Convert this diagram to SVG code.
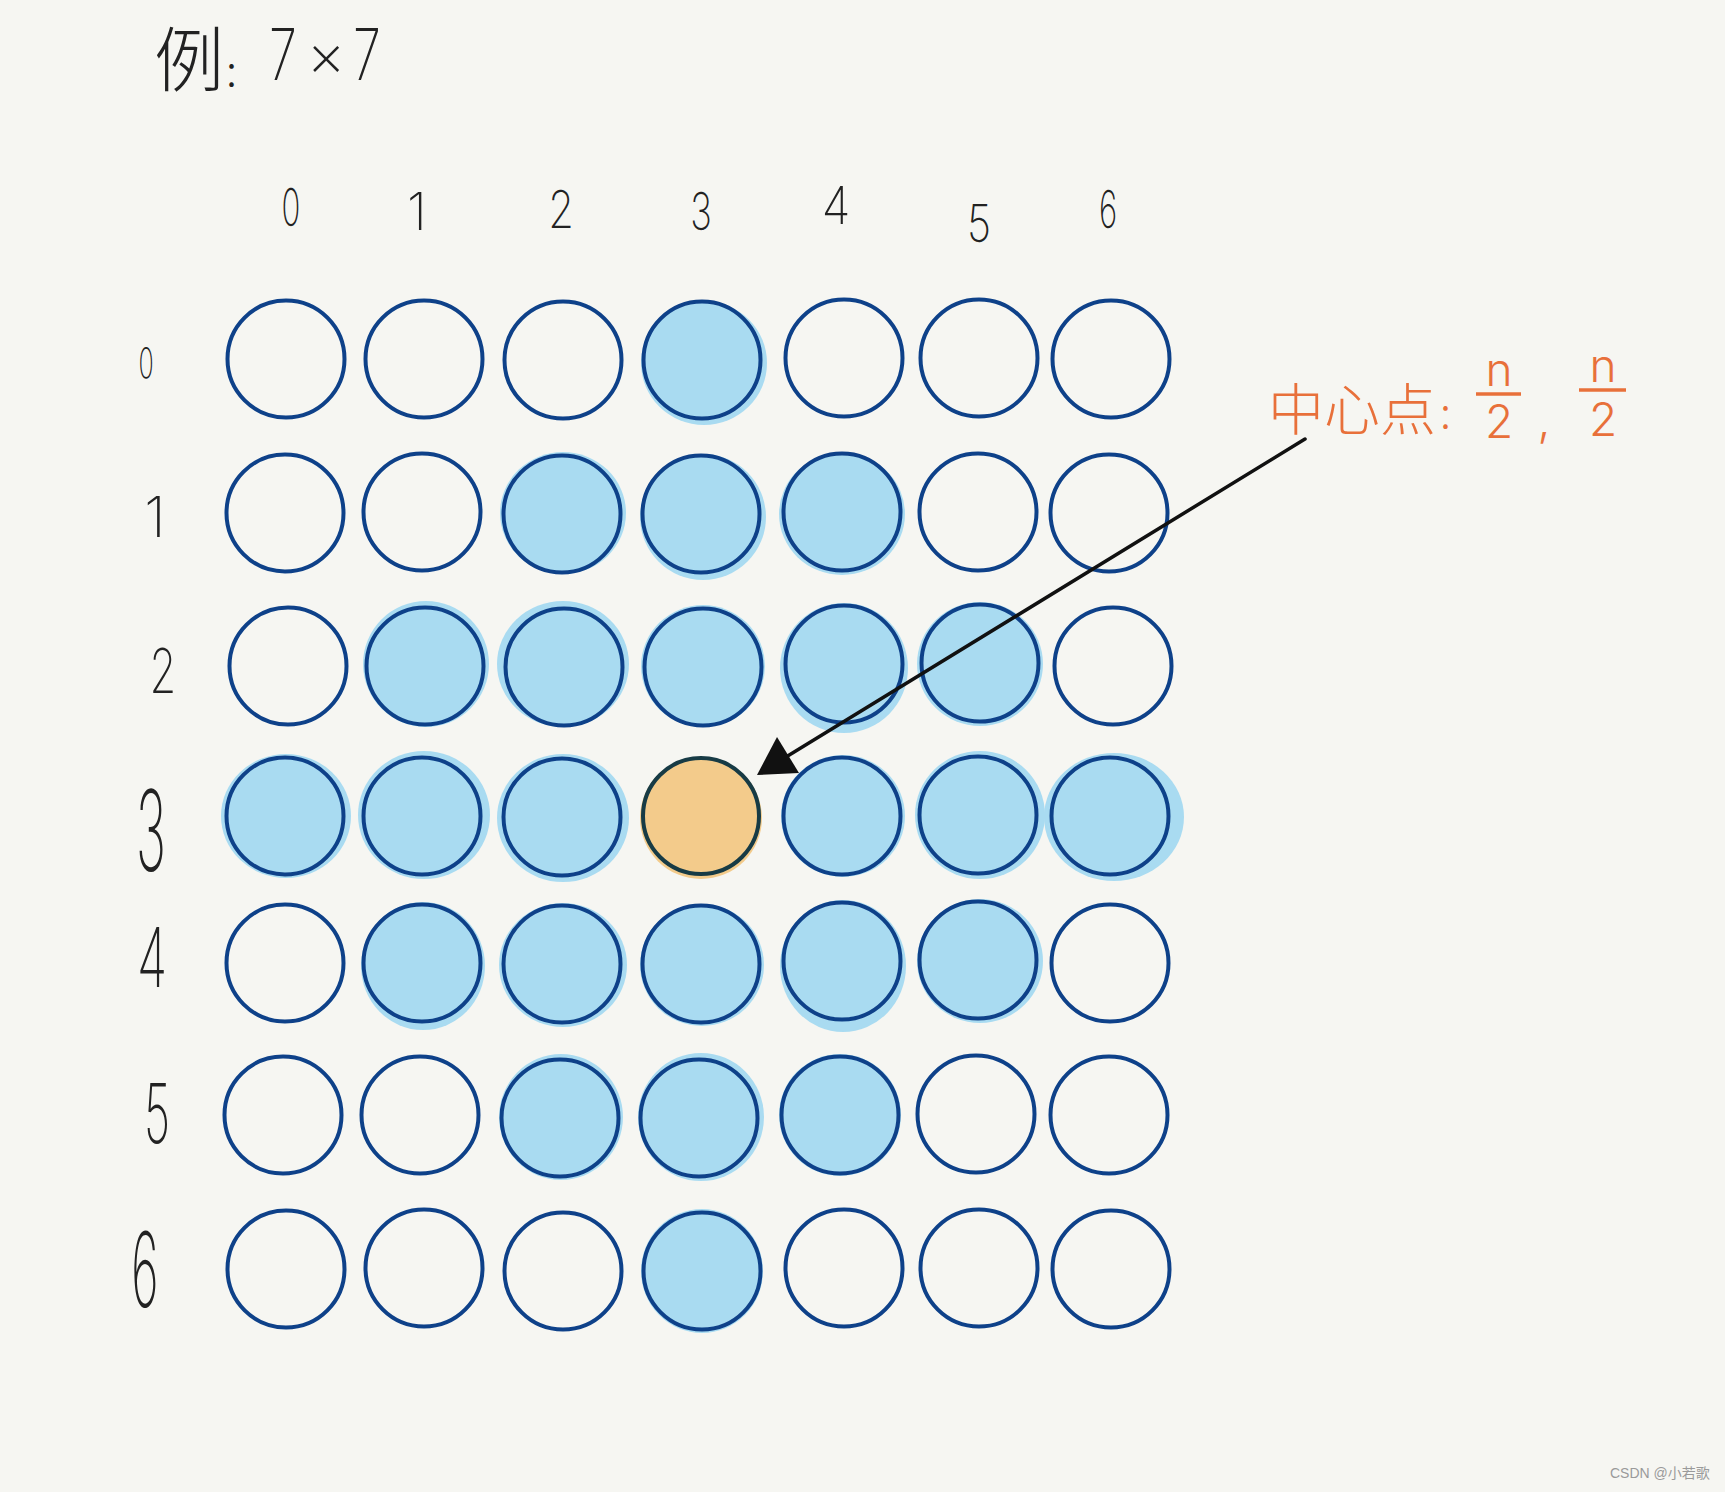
<svg xmlns="http://www.w3.org/2000/svg" width="1725" height="1492" viewBox="0 0 1725 1492">
<style>
.bg{fill:#f6f6f2}
.ring{fill:none;stroke:#0e4189;stroke-width:4}
.blue{fill:#a9dbf1}
.orange{fill:#f3cb8b}
.oring{fill:none;stroke:#173b45;stroke-width:4}
.hw{font-family:"Noto Sans CJK SC","Liberation Sans",sans-serif;fill:#222;font-weight:300}
.lab{font-family:Inter,"Liberation Sans",sans-serif;fill:#222;text-anchor:middle;font-weight:200}
.or{font-family:"Noto Sans CJK SC","Liberation Sans",sans-serif;fill:#e8703a;font-weight:300}
.orn{font-family:Inter,"Liberation Sans",sans-serif;fill:#e8703a;font-weight:300;text-anchor:middle}
.wm{font-family:"Liberation Sans","Noto Sans CJK SC",sans-serif;fill:#9a9a9a;font-size:14px}
</style>
<rect class="bg" width="1725" height="1492"/>
<g id="title">
<text class="hw" font-size="70" x="154" y="86">例</text>
<text class="hw" font-size="44" x="226" y="86">:</text>
<text class="lab" font-size="72" x="283" y="80" transform="translate(283 0) scale(0.7 1) translate(-283 0)">7</text>
<text class="lab" font-size="60" x="326" y="76">×</text>
<text class="lab" font-size="72" x="367" y="80" transform="translate(367 0) scale(0.7 1) translate(-367 0)">7</text>
</g>
<g id="col-labels">
<text class="lab" font-size="52" x="291" y="226" transform="translate(291 0) scale(0.6 1) translate(-291 0)">0</text>
<text class="lab" font-size="52" x="417" y="230">1</text>
<text class="lab" font-size="52" x="561" y="228" transform="translate(561 0) scale(0.8 1) translate(-561 0)">2</text>
<text class="lab" font-size="52" x="701" y="230" transform="translate(701 0) scale(0.7 1) translate(-701 0)">3</text>
<text class="lab" font-size="52" x="836" y="224" transform="translate(836 0) scale(0.9 1) translate(-836 0)">4</text>
<text class="lab" font-size="52" x="979" y="242" transform="translate(979 0) scale(0.8 1) translate(-979 0)">5</text>
<text class="lab" font-size="52" x="1108" y="228" transform="translate(1108 0) scale(0.6 1) translate(-1108 0)">6</text>
</g>
<g id="row-labels">
<text class="lab" font-size="42" x="146" y="378" transform="translate(146 0) scale(0.6 1) translate(-146 0)">0</text>
<text class="lab" font-size="56" x="155" y="537">1</text>
<text class="lab" font-size="62" x="163" y="693" transform="translate(163 0) scale(0.7 1) translate(-163 0)">2</text>
<text class="lab" font-size="112" x="151" y="871" transform="translate(151 0) scale(0.45 1) translate(-151 0)">3</text>
<text class="lab" font-size="82" x="152" y="987" transform="translate(152 0) scale(0.6 1) translate(-152 0)">4</text>
<text class="lab" font-size="82" x="157" y="1143" transform="translate(157 0) scale(0.55 1) translate(-157 0)">5</text>
<text class="lab" font-size="104" x="145" y="1307" transform="translate(145 0) scale(0.45 1) translate(-145 0)">6</text>
</g>
<g id="r0">
<g id="n0-0"><circle class="ring" cx="286" cy="359" r="58.5"/></g>
<g id="n0-1"><circle class="ring" cx="424" cy="359" r="58.5"/></g>
<g id="n0-2"><circle class="ring" cx="563" cy="360" r="58.5"/></g>
<g id="n0-3"><ellipse class="blue" cx="704" cy="363" rx="63" ry="62"/><circle class="ring" cx="702" cy="360" r="58.5"/></g>
<g id="n0-4"><circle class="ring" cx="844" cy="358" r="58.5"/></g>
<g id="n0-5"><circle class="ring" cx="979" cy="358" r="58.5"/></g>
<g id="n0-6"><circle class="ring" cx="1111" cy="359" r="58.5"/></g>
</g>
<g id="r1">
<g id="n1-0"><circle class="ring" cx="285" cy="513" r="58.5"/></g>
<g id="n1-1"><circle class="ring" cx="422" cy="512" r="58.5"/></g>
<g id="n1-2"><ellipse class="blue" cx="563" cy="513" rx="63" ry="61"/><circle class="ring" cx="562" cy="514" r="58.5"/></g>
<g id="n1-3"><ellipse class="blue" cx="703" cy="517" rx="63" ry="63"/><circle class="ring" cx="701" cy="514" r="58.5"/></g>
<g id="n1-4"><ellipse class="blue" cx="842" cy="514" rx="63" ry="61"/><circle class="ring" cx="842" cy="512" r="58.5"/></g>
<g id="n1-5"><circle class="ring" cx="978" cy="512" r="58.5"/></g>
<g id="n1-6"><circle class="ring" cx="1109" cy="513" r="58.5"/></g>
</g>
<g id="r2">
<g id="n2-0"><circle class="ring" cx="288" cy="666" r="58.5"/></g>
<g id="n2-1"><ellipse class="blue" cx="426" cy="664" rx="63" ry="63"/><circle class="ring" cx="425" cy="666" r="58.5"/></g>
<g id="n2-2"><ellipse class="blue" cx="563" cy="664" rx="66" ry="63"/><circle class="ring" cx="564" cy="667" r="58.5"/></g>
<g id="n2-3"><ellipse class="blue" cx="703" cy="666" rx="62" ry="61"/><circle class="ring" cx="703" cy="667" r="58.5"/></g>
<g id="n2-4"><ellipse class="blue" cx="844" cy="668" rx="64" ry="65"/><circle class="ring" cx="844" cy="664" r="58.5"/></g>
<g id="n2-5"><ellipse class="blue" cx="980" cy="664" rx="63" ry="62"/><circle class="ring" cx="980" cy="663" r="58.5"/></g>
<g id="n2-6"><circle class="ring" cx="1113" cy="666" r="58.5"/></g>
</g>
<g id="r3">
<g id="n3-0"><ellipse class="blue" cx="286" cy="816" rx="65" ry="62"/><circle class="ring" cx="285" cy="816" r="58.5"/></g>
<g id="n3-1"><ellipse class="blue" cx="424" cy="815" rx="66" ry="64"/><circle class="ring" cx="422" cy="816" r="58.5"/></g>
<g id="n3-2"><ellipse class="blue" cx="563" cy="818" rx="66" ry="64"/><circle class="ring" cx="562" cy="817" r="58.5"/></g>
<g id="n3-3"><ellipse class="orange" cx="701" cy="818" rx="61" ry="61"/><circle class="oring" cx="701" cy="816" r="58"/></g>
<g id="n3-4"><ellipse class="blue" cx="843" cy="816" rx="62" ry="61"/><circle class="ring" cx="842" cy="816" r="58.5"/></g>
<g id="n3-5"><ellipse class="blue" cx="980" cy="815" rx="65" ry="64"/><circle class="ring" cx="978" cy="815" r="58.5"/></g>
<g id="n3-6"><ellipse class="blue" cx="1114" cy="817" rx="70" ry="64"/><circle class="ring" cx="1110" cy="816" r="58.5"/></g>
</g>
<g id="r4">
<g id="n4-0"><circle class="ring" cx="285" cy="963" r="58.5"/></g>
<g id="n4-1"><ellipse class="blue" cx="423" cy="966" rx="62" ry="64"/><circle class="ring" cx="422" cy="963" r="58.5"/></g>
<g id="n4-2"><ellipse class="blue" cx="563" cy="965" rx="64" ry="62"/><circle class="ring" cx="562" cy="964" r="58.5"/></g>
<g id="n4-3"><ellipse class="blue" cx="702" cy="965" rx="62" ry="61"/><circle class="ring" cx="701" cy="964" r="58.5"/></g>
<g id="n4-4"><ellipse class="blue" cx="843" cy="966" rx="63" ry="66"/><circle class="ring" cx="842" cy="961" r="58.5"/></g>
<g id="n4-5"><ellipse class="blue" cx="980" cy="961" rx="63" ry="62"/><circle class="ring" cx="978" cy="960" r="58.5"/></g>
<g id="n4-6"><circle class="ring" cx="1110" cy="963" r="58.5"/></g>
</g>
<g id="r5">
<g id="n5-0"><circle class="ring" cx="283" cy="1115" r="58.5"/></g>
<g id="n5-1"><circle class="ring" cx="420" cy="1115" r="58.5"/></g>
<g id="n5-2"><ellipse class="blue" cx="561" cy="1117" rx="62" ry="63"/><circle class="ring" cx="560" cy="1118" r="58.5"/></g>
<g id="n5-3"><ellipse class="blue" cx="701" cy="1117" rx="63" ry="64"/><circle class="ring" cx="699" cy="1118" r="58.5"/></g>
<g id="n5-4"><ellipse class="blue" cx="840" cy="1115" rx="61" ry="61"/><circle class="ring" cx="840" cy="1115" r="58.5"/></g>
<g id="n5-5"><circle class="ring" cx="976" cy="1114" r="58.5"/></g>
<g id="n5-6"><circle class="ring" cx="1109" cy="1115" r="58.5"/></g>
</g>
<g id="r6">
<g id="n6-0"><circle class="ring" cx="286" cy="1269" r="58.5"/></g>
<g id="n6-1"><circle class="ring" cx="424" cy="1268" r="58.5"/></g>
<g id="n6-2"><circle class="ring" cx="563" cy="1271" r="58.5"/></g>
<g id="n6-3"><ellipse class="blue" cx="702" cy="1271" rx="61" ry="62"/><circle class="ring" cx="702" cy="1271" r="58.5"/></g>
<g id="n6-4"><circle class="ring" cx="844" cy="1268" r="58.5"/></g>
<g id="n6-5"><circle class="ring" cx="979" cy="1268" r="58.5"/></g>
<g id="n6-6"><circle class="ring" cx="1111" cy="1269" r="58.5"/></g>
</g>
<g id="connectors">
<line x1="1305" y1="439" x2="786" y2="757" stroke="#111" stroke-width="3.5" stroke-linecap="round"/>
<polygon points="757,775 777,737 799,773" fill="#111"/>
</g>
<g id="center-label">
<text class="or" font-size="56" x="1268" y="430">中心点</text>
<text class="or" font-size="44" x="1440" y="428">:</text>
<text class="orn" font-size="46" x="1499" y="386">n</text>
<line x1="1476" y1="394" x2="1521" y2="394" stroke="#e8703a" stroke-width="3.5"/>
<text class="orn" font-size="46" x="1499" y="438">2</text>
<text class="orn" font-size="46" x="1544" y="436">,</text>
<text class="orn" font-size="46" x="1603" y="382">n</text>
<line x1="1579" y1="390" x2="1626" y2="390" stroke="#e8703a" stroke-width="3.5"/>
<text class="orn" font-size="46" x="1603" y="436">2</text>
</g>
<text class="wm" x="1610" y="1478">CSDN @小若歌</text>
</svg>
